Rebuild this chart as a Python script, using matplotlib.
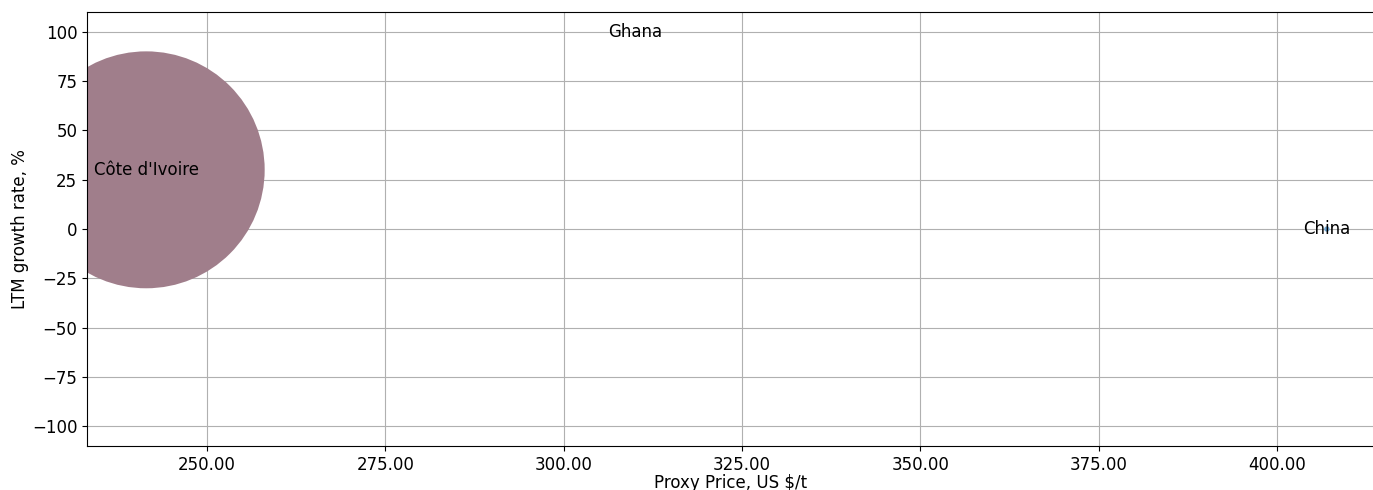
import numpy as np
import matplotlib
matplotlib.use('Agg')
import matplotlib.pyplot as plt
from matplotlib.ticker import FormatStrFormatter

countries = ['Côte d\'Ivoire', 'Ghana', 'China']
proxy_price = [241.5, 310.0, 407.0]
growth_rate = [30.0, 100.0, 0.0]
volume = [4850.0, 0.0, 2.5]
colors = ['#a07e8b', '#a07e8b', '#6fa8d6']

x_ticks = [250, 275, 300, 325, 350, 375, 400]
y_ticks = [-100, -75, -50, -25, 0, 25, 50, 75, 100]

fig = plt.figure(figsize=(13.73, 4.9), dpi=100)
ax = fig.add_axes([87 / 1373, 44 / 490, 1287 / 1373, 434 / 490])

ax.scatter(proxy_price, growth_rate, s=np.array(volume) * 6.0, c=colors,
           linewidths=0, zorder=2)
for name, x, y in zip(countries, proxy_price, growth_rate):
    ax.text(x, y, name, ha='center', va='center', fontsize=12, zorder=3)

ax.set_xlim(233.2, 413.6)
ax.set_ylim(-110, 110)
ax.set_xticks(x_ticks)
ax.set_yticks(y_ticks)
ax.xaxis.set_major_formatter(FormatStrFormatter('%.2f'))
ax.tick_params(labelsize=12)
ax.grid(True, color='#b0b0b0', linewidth=0.8, zorder=0)
ax.set_axisbelow(True)
ax.set_xlabel('Proxy Price, US $/t', fontsize=12, labelpad=0)
ax.set_ylabel('LTM growth rate, %', fontsize=12, labelpad=2)

fig.savefig('out.png', dpi=100)
